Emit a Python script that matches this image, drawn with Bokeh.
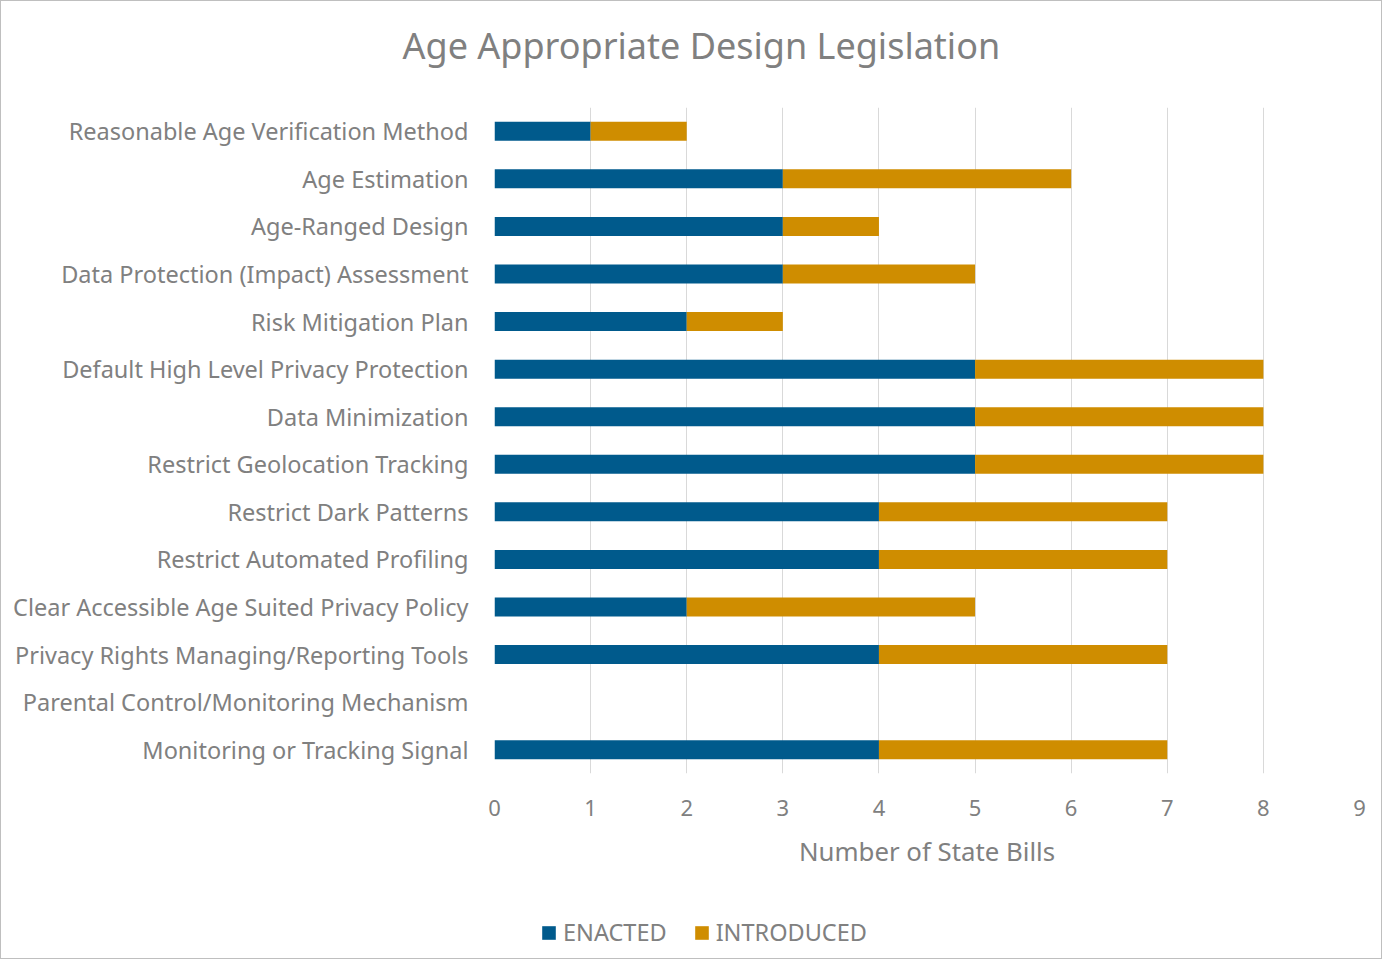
from bokeh.plotting import figure
from bokeh.layouts import column
from bokeh.models import (FactorRange, Range1d, FixedTicker, Legend, LegendItem,
                          ColumnDataSource)
from bokeh.embed import file_html
from bokeh.resources import INLINE

title_text = "Age Appropriate Design Legislation"
x_label = "Number of State Bills"
categories = [
    "Reasonable Age Verification Method",
    "Age Estimation",
    "Age-Ranged Design",
    "Data Protection (Impact) Assessment",
    "Risk Mitigation Plan",
    "Default High Level Privacy Protection",
    "Data Minimization",
    "Restrict Geolocation Tracking",
    "Restrict Dark Patterns",
    "Restrict Automated Profiling",
    "Clear Accessible Age Suited Privacy Policy",
    "Privacy Rights Managing/Reporting Tools",
    "Parental Control/Monitoring Mechanism",
    "Monitoring or Tracking Signal",
]
enacted = [1, 3, 3, 3, 2, 5, 5, 5, 4, 4, 2, 4, 0, 4]
introduced = [1, 3, 1, 2, 1, 3, 3, 3, 3, 3, 3, 3, 0, 3]
series = ["ENACTED", "INTRODUCED"]
x_ticks = [0, 1, 2, 3, 4, 5, 6, 7, 8, 9]

BLUE = "#005A8C"
GOLD = "#CF8D00"
COLORS = [BLUE, GOLD]
TXT = "#808080"
FONT = "Noto Sans"
W = 1380
LEFT, RIGHT, FRAME_W = 493, 22, 865

src = ColumnDataSource(dict(cat=categories, ENACTED=enacted, INTRODUCED=introduced))


def blank_fig(h, **kw):
    f = figure(width=W, height=h, x_range=Range1d(0, 1), y_range=Range1d(0, 1),
               x_axis_location=None, y_axis_location=None,
               output_backend="svg", toolbar_location=None,
               min_border_left=LEFT, min_border_right=RIGHT,
               min_border_top=0, min_border_bottom=0, **kw)
    f.outline_line_color = None
    f.background_fill_color = "white"
    f.border_fill_color = "white"
    f.xgrid.visible = False
    f.ygrid.visible = False
    return f


# ---- title strip ----
TOP_H = 106
p_top = blank_fig(TOP_H, title=title_text)
p_top.title.align = "left"
p_top.title.offset = -92
p_top.title.text_font = FONT
p_top.title.text_font_size = "36px"
p_top.title.text_font_style = "normal"
p_top.title.text_color = TXT
p_top.title.standoff = 34

# ---- main chart ----
MAIN_H = 786
p = figure(
    y_range=FactorRange(factors=categories[::-1], range_padding=0),
    x_range=Range1d(0, 9),
    width=W, height=MAIN_H,
    output_backend="svg", toolbar_location=None,
    min_border_left=LEFT, min_border_right=RIGHT,
    min_border_top=0, min_border_bottom=120,
)
p.outline_line_color = None
p.background_fill_color = "white"
p.border_fill_color = "white"

p.hbar_stack(series, y="cat", height=0.4,
             fill_color=COLORS, line_color=None, source=src)

xa = p.xaxis[0]
xa.ticker = FixedTicker(ticks=x_ticks)
xa.axis_line_color = None
xa.major_tick_line_color = None
xa.minor_tick_line_color = None
xa.major_label_text_font = FONT
xa.major_label_text_font_size = "22px"
xa.major_label_text_color = TXT
xa.major_label_standoff = 20
xa.axis_label = x_label
xa.axis_label_text_font = FONT
xa.axis_label_text_font_size = "25.8px"
xa.axis_label_text_font_style = "normal"
xa.axis_label_text_color = TXT
xa.axis_label_standoff = 14

ya = p.yaxis[0]
ya.axis_line_color = None
ya.major_tick_line_color = None
ya.minor_tick_line_color = None
ya.major_label_text_font = FONT
ya.major_label_text_font_size = "23.5px"
ya.major_label_text_color = TXT
ya.major_label_standoff = 20

p.ygrid.grid_line_color = None
p.xgrid.ticker = FixedTicker(ticks=x_ticks)
p.xgrid.grid_line_color = "#d9d9d9"
p.xgrid.grid_line_width = 1

# ---- legend strip ----
LEG_H = 957 - TOP_H - MAIN_H
p_leg = blank_fig(LEG_H)
leg_rs = [p_leg.hbar(y=0.5, right=s, height=0.1, source=src,
                     fill_color=c, line_color=None, visible=False)
          for s, c in zip(series, COLORS)]
legend = Legend(
    items=[LegendItem(label=s, renderers=[r]) for s, r in zip(series, leg_rs)],
    orientation="horizontal",
    location=(46, 10),
    glyph_width=17, glyph_height=17,
    label_text_font=FONT, label_text_font_size="23.5px", label_text_color=TXT,
    label_standoff=6, spacing=26, padding=0, margin=0,
    border_line_color=None, background_fill_alpha=0,
)
p_leg.add_layout(legend, "center")

layout = column(p_top, p, p_leg, spacing=0,
                styles={"border": "1px solid #bfbfbf", "background": "white"})

open("out.html", "w").write(file_html(layout, INLINE))
